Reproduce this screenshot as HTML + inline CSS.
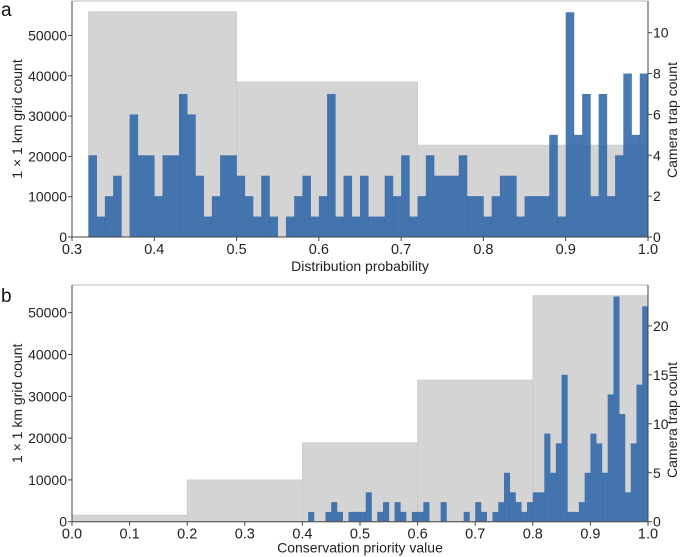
<!DOCTYPE html>
<html><head><meta charset="utf-8"><style>
html,body{margin:0;padding:0;background:#fff;}
svg{display:block;font-family:"Liberation Sans",Arial,sans-serif;}
</style></head><body>
<svg id="chart" width="685" height="557" viewBox="0 0 685 557"></svg>
<script>
// Panel a data
const aGrayEdges = [0.32, 0.5, 0.72, 1.0];
const aGrayValues = [55900, 38500, 22800];
const aBinStart = 0.30;
const aCamera = [0,0,4,1,2,3,0,6,4,4,2,4,4,7,6,3,1,2,4,4,3,2,1,3,1,0,1,2,3,1,2,7,1,3,1,3,1,1,3,2,4,1,2,4,3,3,3,4,2,2,1,2,3,3,1,2,2,2,5,1,11,5,7,2,7,2,4,8,5,8];
const aXTicks = [0.3,0.4,0.5,0.6,0.7,0.8,0.9,1.0];
const aLeftTicks = [0,10000,20000,30000,40000,50000];
const aRightTicks = [0,2,4,6,8,10];
// Panel b data
const bGrayEdges = [0, 0.2, 0.4, 0.6, 0.8, 1.0];
const bGrayValues = [1600, 10000, 18900, 33900, 54100];
const bBinStart = 0.40;
const bCamera = [0,1,0,0,1,2,1,0,1,1,1,3,0,1,2,0,2,1,0,1,1,2,0,0,2,0,0,0,1,0,2,1,0,1,2,5,3,2,1,2,3,3,9,5,8,15,1,1,2,5,9,8,5,13,23,11,3,8,14,22];
const bXTicks = [0,0.1,0.2,0.3,0.4,0.5,0.6,0.7,0.8,0.9,1.0];
const bLeftTicks = [0,10000,20000,30000,40000,50000];
const bRightTicks = [0,5,10,15,20];

const NS="http://www.w3.org/2000/svg";
const svg=document.getElementById('chart');
function mk(tag,attrs,parent){const e=document.createElementNS(NS,tag);for(const k in attrs)e.setAttribute(k,attrs[k]);(parent||svg).appendChild(e);return e;}

function panel(o){
  const g=mk('g',{});
  
  
  const X=v=>o.x0+(v-o.xmin)/(o.xmax-o.xmin)*(o.x1-o.x0);
  const YL=v=>o.y0-v*o.lpx;
  const YR=v=>o.y0-v*o.rpx;
  for(let i=0;i<o.grayValues.length;i++){
    const r=mk('rect',{x:X(o.grayEdges[i]),y:YL(o.grayValues[i]),width:X(o.grayEdges[i+1])-X(o.grayEdges[i]),height:o.y0-YL(o.grayValues[i]),fill:'#d4d4d4',stroke:'#c4c4c4','stroke-width':0.6},g);
    
    
  }
  for(let i=0;i<o.camera.length;i++){
    if(!o.camera[i])continue;
    const xa=X(o.binStart+i*0.01), xb=X(o.binStart+(i+1)*0.01);
    const r=mk('rect',{x:xa,y:YR(o.camera[i]),width:xb-xa+0.3,height:o.y0-YR(o.camera[i]),fill:'#2f66a8','fill-opacity':0.88},g);
    
    
  }
  const f=mk('rect',{x:o.x0,y:o.top,width:o.x1-o.x0,height:o.y0-o.top,fill:'none',stroke:'#bdbdbd','stroke-width':1},g);
  
  mk('line',{x1:o.x0,y1:o.top,x2:o.x0,y2:o.y0,stroke:'#444','stroke-width':1},g);
  mk('line',{x1:o.x1,y1:o.top,x2:o.x1,y2:o.y0,stroke:'#444','stroke-width':1},g);
  mk('line',{x1:o.x0,y1:o.y0,x2:o.x1,y2:o.y0,stroke:'#444','stroke-width':1},g);
  o.xTicks.forEach(t=>{
    mk('line',{x1:X(t),y1:o.y0,x2:X(t),y2:o.y0+4,stroke:'#444'},g);
    const tx=mk('text',{x:X(t),y:o.y0+17,'font-size':14.5,'text-anchor':'middle',fill:'#222'},g);
    tx.textContent=t.toFixed(1);
    
  });
  o.leftTicks.forEach(t=>{
    mk('line',{x1:o.x0-4,y1:YL(t),x2:o.x0,y2:YL(t),stroke:'#444'},g);
    const tx=mk('text',{x:o.x0-5,y:YL(t)+5,'font-size':14,'text-anchor':'end',fill:'#222'},g);
    tx.textContent=t;
    
  });
  o.rightTicks.forEach(t=>{
    mk('line',{x1:o.x1,y1:YR(t),x2:o.x1+4,y2:YR(t),stroke:'#444'},g);
    const tx=mk('text',{x:o.x1+5,y:YR(t)+5,'font-size':14,'text-anchor':'start',fill:'#222'},g);
    tx.textContent=t;
    
  });
  const xt=mk('text',{x:(o.x0+o.x1)/2,y:o.y0+o.xTitleOff,'font-size':14,'text-anchor':'middle',fill:'#222'},g);
  xt.textContent=o.xTitle;
  
  const cy=(o.top+o.y0)/2;
  const yl=mk('text',{x:0,y:0,'font-size':14,'text-anchor':'middle',fill:'#222',transform:`translate(22,${cy}) rotate(-90)`},g);
  yl.textContent='1 × 1 km grid count';
  
  const yr=mk('text',{x:0,y:0,'font-size':14,'text-anchor':'middle',fill:'#222',transform:`translate(677,${o.rTitleY}) rotate(-90)`},g);
  yr.textContent='Camera trap count';
  
  const lb=mk('text',{x:1,y:o.labelY,'font-size':19,fill:'#111'},g);
  lb.textContent=o.label;
  
}

panel({name:'panel-a',label:'a',labelY:16,x0:72,x1:648,top:1,y0:237,xmin:0.3,xmax:1.0,lpx:40.3/10000,rpx:20.43,
  grayEdges:aGrayEdges,grayValues:aGrayValues,binStart:aBinStart,camera:aCamera,xTicks:aXTicks,leftTicks:aLeftTicks,rightTicks:aRightTicks,
  xTitle:'Distribution probability',xTitleOff:34,rTitleY:120});
panel({name:'panel-b',label:'b',labelY:302,x0:72,x1:648,top:285,y0:521.7,xmin:0,xmax:1.0,lpx:41.8/10000,rpx:9.79,
  grayEdges:bGrayEdges,grayValues:bGrayValues,binStart:bBinStart,camera:bCamera,xTicks:bXTicks,leftTicks:bLeftTicks,rightTicks:bRightTicks,
  xTitle:'Conservation priority value',xTitleOff:31,rTitleY:420});
</script>
</body></html>
